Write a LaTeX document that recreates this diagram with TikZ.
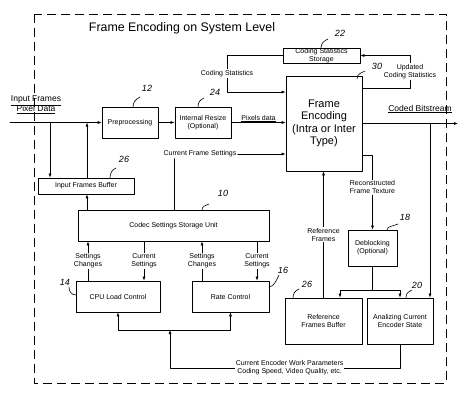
\documentclass[tikz,border=0pt]{standalone}
\usepackage{fontspec}
\setmainfont{Liberation Sans}
\usetikzlibrary{arrows.meta}

\tikzset{
  blk/.style={draw, line width=0.7pt, inner sep=0pt, align=center, font=\fontsize{7}{8}\selectfont},
  lbl/.style={fill=white, inner sep=1pt, align=center, font=\fontsize{7}{8}\selectfont},
  io/.style={inner sep=1pt, align=center, font=\fontsize{8.5}{10}\selectfont},
  arr/.style={-{Latex[length=4pt,width=3pt]}},
  refno/.style={font=\fontsize{9}{9}\selectfont\itshape}
}

\begin{document}
\begin{tikzpicture}[x=1pt, y=-1pt, line width=0.6pt, line cap=round, line join=round]
\useasboundingbox (0,0) rectangle (474,402);
\draw[dash pattern=on 9pt off 5pt, line cap=butt] (34,14) rectangle (446,383);
\node[font=\fontsize{12.4}{14}\selectfont] (title) at (182,28) {Frame Encoding on System Level};

% blocks
\node[blk, minimum width=77pt, minimum height=15pt] (stor) at (321.5,55.5) {Coding Statistics\\Storage};
\node[blk, minimum width=76pt, minimum height=95pt, font=\fontsize{11}{12.5}\selectfont] (fe) at (324,123.5) {Frame\\Encoding\\(Intra or Inter\\Type)};
\node[blk, minimum width=56pt, minimum height=31pt] (pre) at (130,122.5) {Preprocessing};
\node[blk, minimum width=56pt, minimum height=31pt] (res) at (203,122.5) {Internal Resize\\(Optional)};
\node[blk, minimum width=96pt, minimum height=16pt] (ifb) at (86,186) {Input Frames Buffer};
\node[blk, minimum width=191pt, minimum height=31pt] (csu) at (173.5,225.5) {Codec Settings Storage Unit};
\node[blk, minimum width=84pt, minimum height=31pt] (cpu) at (118,296.5) {CPU Load Control};
\node[blk, minimum width=77pt, minimum height=31pt] (rate) at (230.5,296.5) {Rate Control};
\node[blk, minimum width=49pt, minimum height=36pt] (deb) at (372.5,248) {Deblocking\\(Optional)};
\node[blk, minimum width=77pt, minimum height=46pt] (rfb) at (323.5,321) {Reference\\Frames Buffer};
\node[blk, minimum width=66pt, minimum height=46pt] (ana) at (400,321) {Analizing Current\\Encoder State};

% input and output
\coordinate (in) at (10,122.5);
\coordinate (out) at (458,123.5);
\node[io] (inp) at (36,105) {\underline{Input Frames}\\\underline{Pixel Data}};
\node[io] (cbs) at (420,109) {\underline{Coded Bitstream}};
\draw[arr] (in) -- (pre.west);
\draw[arr] (pre.east) -- (res.west);
\draw[arr] (res.east) -- node[above, lbl, fill=none, yshift=-1pt]{\underline{Pixels data}} (fe.west |- res.east);
\draw[arr] (fe.east |- out) -- (out);

% input frames buffer
\draw[arr] (50,0 |- in) -- (50,0 |- ifb.north);
\draw[arr] (87,0 |- ifb.north) -- (87,0 |- in);
\draw[arr] (87,0 |- csu.north) -- (87,0 |- ifb.south);

% coding statistics
\coordinate (cs) at (227,92);
\draw[arr] (stor.west) -| node[pos=0.75, lbl]{Coding Statistics} (cs) -- (cs -| fe.west);
\coordinate (us) at (410,88);
\draw[arr] (us -| fe.east) -- (us) |- node[pos=0.25, lbl]{Updated\\Coding Statistics} (stor.east);

% current frame settings
\node[lbl] (cfs) at (200,154) {Current Frame Settings};
\draw (174,0 |- csu.north) -- (174,0 |- cfs.south);
\draw[arr] (cfs.east) -- (cfs.east -| fe.west);

% codec settings links
\foreach \x/\a in {88/cpu, 202/rate}
  \draw[arr] (\x,0 |- \a.north) -- node[lbl]{Settings\\Changes} (\x,0 |- csu.south);
\foreach \x/\b in {144/cpu, 257/rate}
  \draw[arr] (\x,0 |- csu.south) -- node[lbl]{Current\\Settings} (\x,0 |- \b.north);

% reconstruction loop
\coordinate (rt) at (372.5,155);
\draw[arr] (rt -| fe.east) -- (rt) -- node[pos=0.43, lbl]{Reconstructed\\Frame Texture} (deb.north);
\draw[arr] (rfb.north) -- node[lbl]{Reference\\Frames} (rfb.north |- fe.south);
\coordinate (split) at (372.5,290);
\coordinate (rfin) at (340,0);
\coordinate (anain) at (400,0);
\draw (deb.south) -- (split);
\draw[arr] (split) -| (rfin |- rfb.north);
\draw[arr] (split) -| (anain |- ana.north);
\coordinate (bs) at (430,0);
\draw[arr] (bs |- out) -- (bs |- ana.north);

% work parameters feedback
\coordinate (cp) at (170,368);
\coordinate (bar) at (170,330);
\draw[arr] (ana.south) |- node[pos=0.74, lbl]{Current Encoder Work Parameters\\Coding Speed, Video Quality, etc.} (cp) -- (bar);
\draw[arr] (bar) -| (cpu.south);
\draw[arr] (bar) -| (rate.south);

% reference numbers
\foreach \sx/\sy/\ax/\ay/\bx/\by/\ex/\ey/\nx/\ny/\n in {
  133/107/0/-5/-4/2/140/97/147/88/12,
  198/107/0/-5/-4/2/204/98/215/92/24,
  321/48/0/-5/-4/2/328/39/340/33/22,
  357/79/0/-5/-4/2/365/71/377/66/30,
  110/178/0/-5/-4/2/116/168/124/159/26,
  202/210/0/-4/-4/2/209/204/223/193/10,
  76/295/-5/0/0/4/69/287/65/282/14,
  269/287/5/0/-2/4/279/275/283/270/16,
  387/230/0/-4/-4/2/398/224/405/217/18,
  293/298/0/-5/-4/2/299/289/307/284/26,
  406/298/0/-5/-4/2/412/290/417/285/20}
{
  \draw (\sx,\sy) .. controls +(\ax,\ay) and +(\bx,\by) .. (\ex,\ey);
  \node[refno] (n\n\sx) at (\nx,\ny) {\n};
}
\end{tikzpicture}
\end{document}
